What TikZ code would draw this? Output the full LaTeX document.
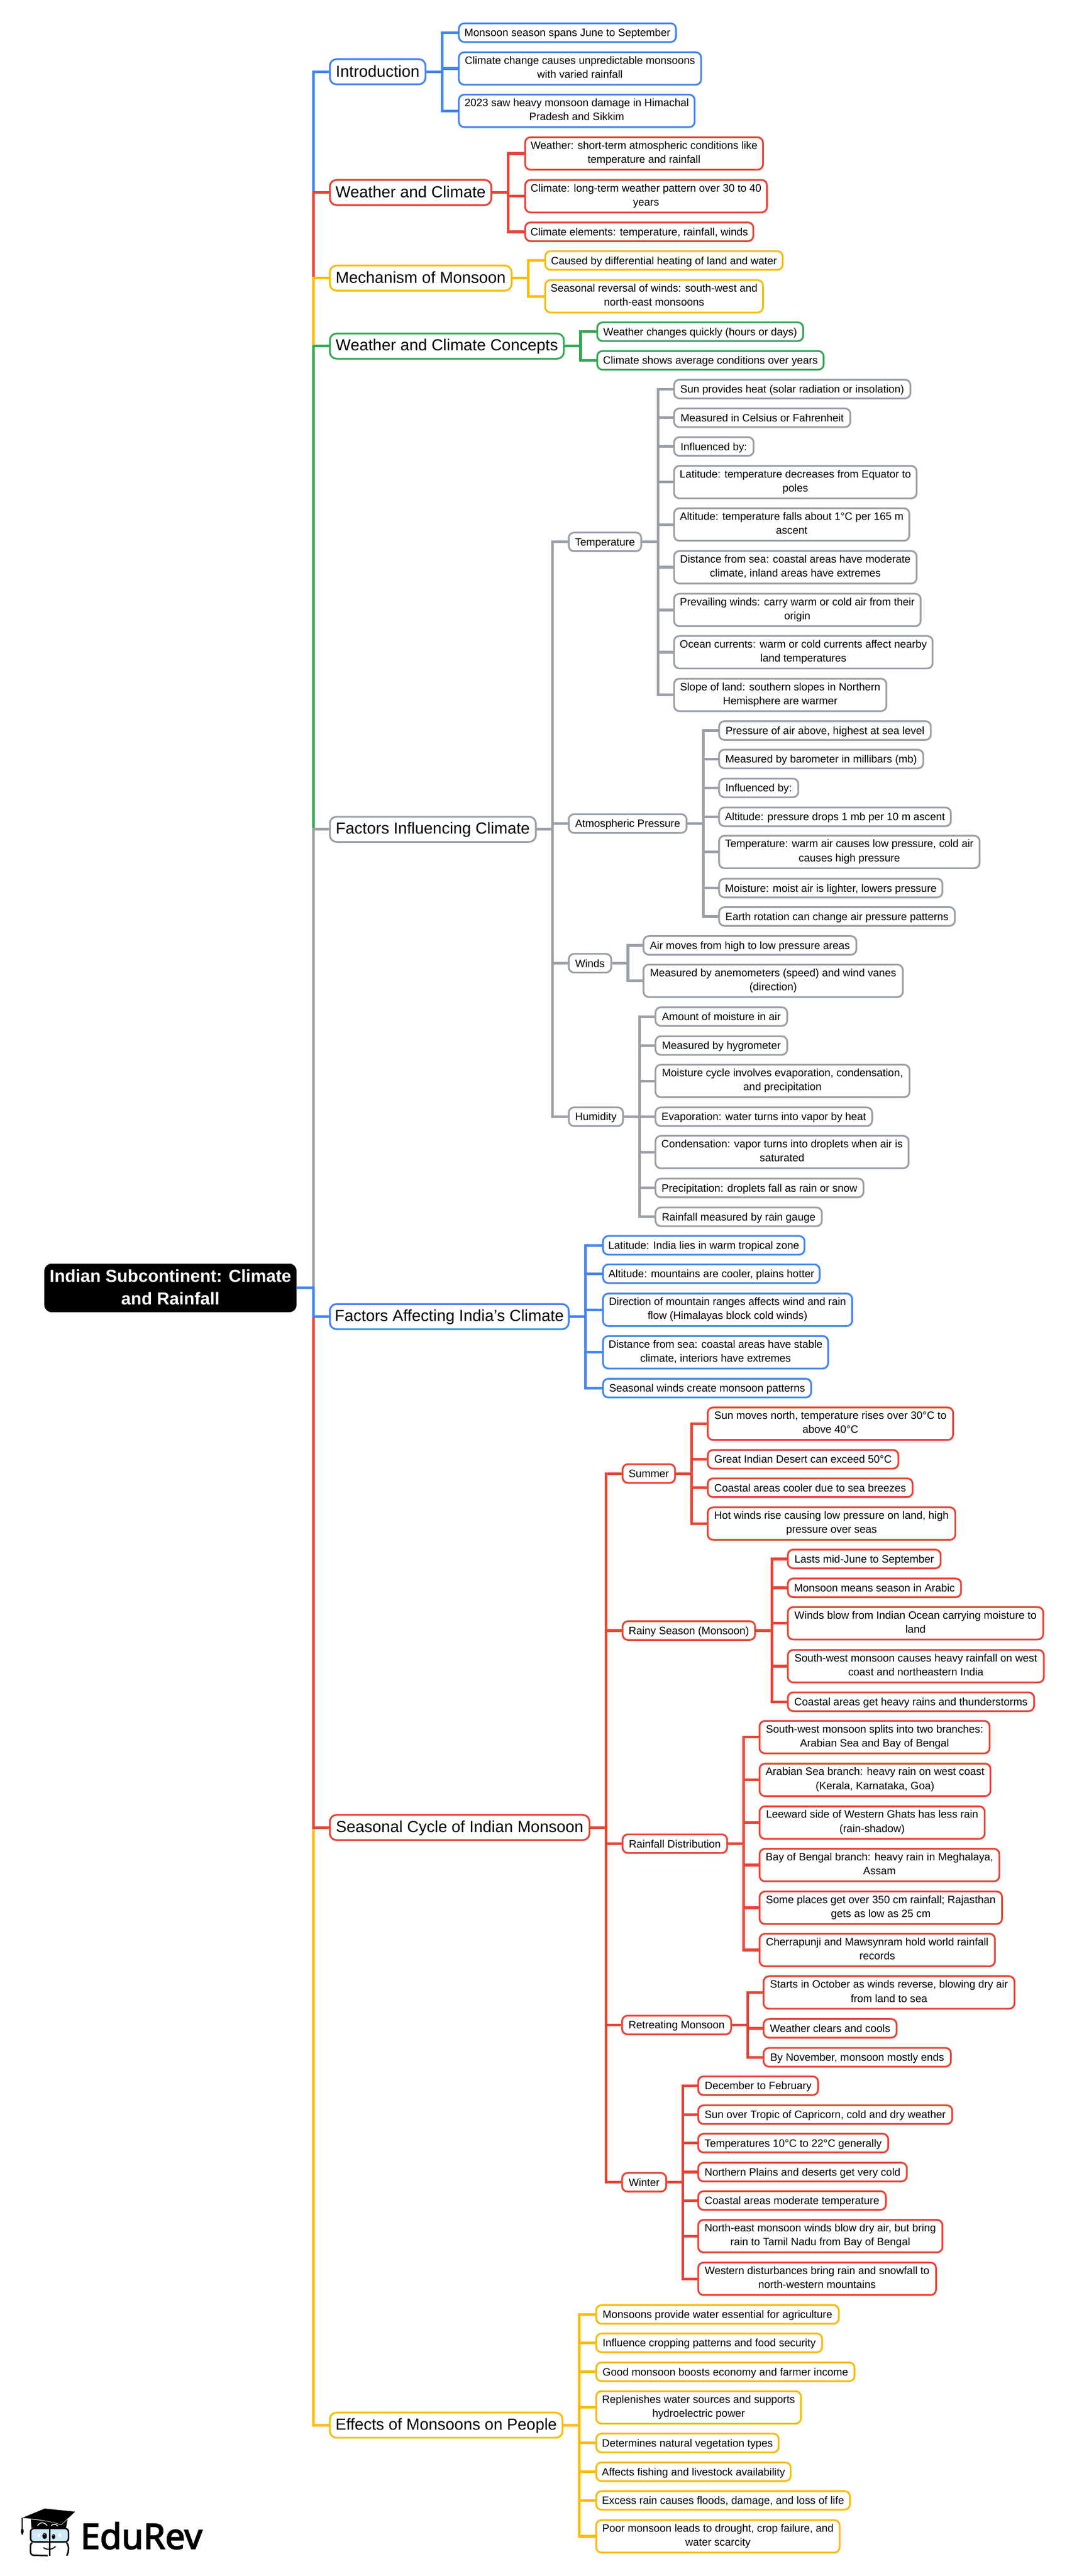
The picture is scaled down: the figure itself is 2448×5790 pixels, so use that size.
\documentclass[tikz,border=0pt]{standalone}
\usepackage{fontspec}
\setmainfont{Liberation Sans}
\newfontfamily\logofont[FakeBold=3]{Noto Sans}
\definecolor{cBlue}{HTML}{4285F4}
\definecolor{cRed}{HTML}{EA4335}
\definecolor{cYellow}{HTML}{FBBC04}
\definecolor{cGreen}{HTML}{34A853}
\definecolor{cGray}{HTML}{9AA0A6}
\definecolor{cLens}{HTML}{CFE8F7}
\tikzset{
  box/.style={rectangle,line width=2pt,fill=white,text=black,align=center,
    inner sep=0pt,outer sep=0pt,anchor=west},
  lfs/.style={rounded corners=6pt,font=\fontsize{12}{15.8}\selectfont,
    execute at begin node=\rule{0pt}{11.65pt},execute at end node=\rule[-3.05pt]{0pt}{3.05pt}},
  hone/.style={lfs,minimum height=21pt},
  htwo/.style={lfs,minimum height=36.5pt},
  hmain/.style={rounded corners=7.5pt,minimum height=28.3pt,font=\fontsize{18}{23}\selectfont,
    execute at begin node=\rule{0pt}{14pt},execute at end node=\rule[-2.6pt]{0pt}{2.6pt}},
  rootbox/.style={rectangle,rounded corners=8pt,fill=black,text=white,align=center,inner sep=0pt,outer sep=0pt,
    minimum width=283.4pt,minimum height=54.5pt,font=\fontsize{19.5}{25.5}\selectfont\bfseries,
    execute at begin node=\rule{0pt}{14pt},execute at end node=\rule[-1.6pt]{0pt}{1.6pt}},
  link/.style={line width=3pt,line join=miter}
}
\newcommand\bx[6]{\node[box,#5,minimum width={(#3-#2)*0.5pt}] (#1) at ({#2-0.5},#4) {#6};}
\newcommand\lnkall[3]{\foreach \kid in {#3}{\draw[link,draw=#2] (#1.east) -- ++(37.5,0) |- (\kid.west);}}
\begin{document}
\begin{tikzpicture}[x=0.5pt,y=-0.5pt]
\useasboundingbox (0,0) rectangle (2448,5790);
\fill[white] (0,0) rectangle (2448,5790);
\node[rootbox] (root) at (383.2,2894.8) {Indian Subcontinent: Climate\\and Rainfall};
% Introduction
\bx{intro}{742}{957}{161.3}{draw=cBlue,hmain}{Introduction}
\bx{ia}{1032}{1520}{73.5}{draw=cBlue,hone}{Monsoon season spans June to September}
\bx{ib}{1032}{1576.5}{154}{draw=cBlue,htwo}{Climate change causes unpredictable monsoons\\with varied rainfall}
\bx{ic}{1032}{1562}{249.3}{draw=cBlue,htwo}{2023 saw heavy monsoon damage in Himachal\\Pradesh and Sikkim}
% Weather and Climate
\bx{wc}{742}{1105}{432.7}{draw=cRed,hmain}{Weather and Climate}
\bx{wa}{1181}{1715.5}{345}{draw=cRed,htwo}{Weather: short-term atmospheric conditions like\\temperature and rainfall}
\bx{wb}{1181}{1724.5}{441}{draw=cRed,htwo}{Climate: long-term weather pattern over 30 to 40\\years}
\bx{wd}{1181}{1694}{521}{draw=cRed,hone}{Climate elements: temperature, rainfall, winds}
% Mechanism
\bx{me}{742}{1150.5}{625}{draw=cYellow,hmain}{Mechanism of Monsoon}
\bx{ma}{1226}{1760}{585.5}{draw=cYellow,hone}{Caused by differential heating of land and water}
\bx{mb}{1226}{1715.5}{666}{draw=cYellow,htwo}{Seasonal reversal of winds: south-west and\\north-east monsoons}
% Concepts
\bx{co}{742}{1268}{778}{draw=cGreen,hmain}{Weather and Climate Concepts}
\bx{ca}{1343}{1806}{745.6}{draw=cGreen,hone}{Weather changes quickly (hours or days)}
\bx{cb}{1343}{1852}{810}{draw=cGreen,hone}{Climate shows average conditions over years}
% Factors Influencing
\bx{fi}{742}{1205}{1864}{draw=cGray,hmain}{Factors Influencing Climate}
\bx{te}{1279}{1442}{1218}{draw=cGray,hone}{Temperature}
\bx{ta}{1515.7}{2047}{874.5}{draw=cGray,hone}{Sun provides heat (solar radiation or insolation)}
\bx{tb}{1515.7}{1912}{939}{draw=cGray,hone}{Measured in Celsius or Fahrenheit}
\bx{tc}{1515.7}{1694.6}{1003.6}{draw=cGray,hone}{Influenced by:}
\bx{td}{1515.7}{2061}{1083.7}{draw=cGray,htwo}{Latitude: temperature decreases from Equator to\\poles}
\bx{tf}{1515.7}{2044.6}{1179}{draw=cGray,htwo}{Altitude: temperature falls about 1°C per 165 m\\ascent}
\bx{tg}{1515.7}{2061}{1275}{draw=cGray,htwo}{Distance from sea: coastal areas have moderate\\climate, inland areas have extremes}
\bx{th}{1515.7}{2070}{1371}{draw=cGray,htwo}{Prevailing winds: carry warm or cold air from their\\origin}
\bx{ti}{1515.7}{2097}{1466}{draw=cGray,htwo}{Ocean currents: warm or cold currents affect nearby\\land temperatures}
\bx{tj}{1515.7}{1993}{1562}{draw=cGray,htwo}{Slope of land: southern slopes in Northern\\Hemisphere are warmer}
\bx{ap}{1279}{1544}{1851}{draw=cGray,hone}{Atmospheric Pressure}
\bx{pa}{1617}{2093}{1642}{draw=cGray,hone}{Pressure of air above, highest at sea level}
\bx{pb}{1617}{2076}{1706}{draw=cGray,hone}{Measured by barometer in millibars (mb)}
\bx{pc}{1617}{1795}{1771}{draw=cGray,hone}{Influenced by:}
\bx{pd}{1617}{2138}{1836}{draw=cGray,hone}{Altitude: pressure drops 1 mb per 10 m ascent}
\bx{pe}{1617}{2202.5}{1915}{draw=cGray,htwo}{Temperature: warm air causes low pressure, cold air\\causes high pressure}
\bx{pf}{1617}{2119}{1996}{draw=cGray,hone}{Moisture: moist air is lighter, lowers pressure}
\bx{pg}{1617}{2147}{2060}{draw=cGray,hone}{Earth rotation can change air pressure patterns}
\bx{wi}{1279}{1374.5}{2165}{draw=cGray,hone}{Winds}
\bx{na}{1447}{1925.5}{2125}{draw=cGray,hone}{Air moves from high to low pressure areas}
\bx{nb}{1447}{2030}{2204.6}{draw=cGray,htwo}{Measured by anemometers (speed) and wind vanes\\(direction)}
\bx{hu}{1279}{1401}{2510}{draw=cGray,hone}{Humidity}
\bx{ha}{1474}{1770}{2285}{draw=cGray,hone}{Amount of moisture in air}
\bx{hb}{1474}{1770}{2350}{draw=cGray,hone}{Measured by hygrometer}
\bx{hc}{1474}{2045}{2429.6}{draw=cGray,htwo}{Moisture cycle involves evaporation, condensation,\\and precipitation}
\bx{hd}{1474}{1961}{2510}{draw=cGray,hone}{Evaporation: water turns into vapor by heat}
\bx{he}{1474}{2043}{2589.5}{draw=cGray,htwo}{Condensation: vapor turns into droplets when air is\\saturated}
\bx{hf}{1474}{1941.6}{2670}{draw=cGray,hone}{Precipitation: droplets fall as rain or snow}
\bx{hg}{1474}{1848}{2735}{draw=cGray,hone}{Rainfall measured by rain gauge}
% Factors Affecting
\bx{fa}{742}{1279}{2959.3}{draw=cBlue,hmain}{Factors Affecting India's Climate}
\bx{aa}{1356}{1809}{2799}{draw=cBlue,hone}{Latitude: India lies in warm tropical zone}
\bx{ab}{1356}{1843}{2863}{draw=cBlue,hone}{Altitude: mountains are cooler, plains hotter}
\bx{ac}{1356}{1916}{2944}{draw=cBlue,htwo}{Direction of mountain ranges affects wind and rain\\flow (Himalayas block cold winds)}
\bx{ad}{1356}{1862}{3039.5}{draw=cBlue,htwo}{Distance from sea: coastal areas have stable\\climate, interiors have extremes}
\bx{ae}{1356}{1824}{3120}{draw=cBlue,hone}{Seasonal winds create monsoon patterns}
% Seasonal Cycle
\bx{sc}{742}{1325.6}{4107.6}{draw=cRed,hmain}{Seasonal Cycle of Indian Monsoon}
\bx{su}{1400}{1518}{3312}{draw=cRed,hone}{Summer}
\bx{sa}{1591.4}{2143}{3200}{draw=cRed,htwo}{Sun moves north, temperature rises over 30°C to\\above 40°C}
\bx{sb}{1591.4}{2020}{3280}{draw=cRed,hone}{Great Indian Desert can exceed 50°C}
\bx{sd}{1591.4}{2052}{3344}{draw=cRed,hone}{Coastal areas cooler due to sea breezes}
\bx{se}{1591.4}{2148}{3424.5}{draw=cRed,htwo}{Hot winds rise causing low pressure on land, high\\pressure over seas}
\bx{ry}{1400}{1698}{3665}{draw=cRed,hone}{Rainy Season (Monsoon)}
\bx{ra}{1771.5}{2115}{3504}{draw=cRed,hone}{Lasts mid-June to September}
\bx{rb}{1771.5}{2161}{3569}{draw=cRed,hone}{Monsoon means season in Arabic}
\bx{rc}{1771.5}{2345.5}{3648.6}{draw=cRed,htwo}{Winds blow from Indian Ocean carrying moisture to\\land}
\bx{rd}{1771.5}{2347}{3745}{draw=cRed,htwo}{South-west monsoon causes heavy rainfall on west\\coast and northeastern India}
\bx{re}{1771.5}{2325}{3825}{draw=cRed,hone}{Coastal areas get heavy rains and thunderstorms}
\bx{rd0}{1400}{1635}{4144}{draw=cRed,hone}{Rainfall Distribution}
\bx{da}{1708}{2225}{3904.5}{draw=cRed,htwo}{South-west monsoon splits into two branches:\\Arabian Sea and Bay of Bengal}
\bx{db}{1708}{2227}{4000.5}{draw=cRed,htwo}{Arabian Sea branch: heavy rain on west coast\\(Kerala, Karnataka, Goa)}
\bx{dc}{1708}{2214}{4096.5}{draw=cRed,htwo}{Leeward side of Western Ghats has less rain\\(rain-shadow)}
\bx{dd}{1708}{2247}{4192}{draw=cRed,htwo}{Bay of Bengal branch: heavy rain in Meghalaya,\\Assam}
\bx{de}{1708}{2253}{4288}{draw=cRed,htwo}{Some places get over 350 cm rainfall; Rajasthan\\gets as low as 25 cm}
\bx{df}{1708}{2237}{4383}{draw=cRed,htwo}{Cherrapunji and Mawsynram hold world rainfall\\records}
\bx{rt}{1399}{1644}{4551.5}{draw=cRed,hone}{Retreating Monsoon}
\bx{ea}{1717}{2281}{4478.5}{draw=cRed,htwo}{Starts in October as winds reverse, blowing dry air\\from land to sea}
\bx{eb}{1717}{2016}{4559}{draw=cRed,hone}{Weather clears and cools}
\bx{ec}{1717}{2138}{4624}{draw=cRed,hone}{By November, monsoon mostly ends}
\bx{wn}{1399}{1498}{4905}{draw=cRed,hone}{Winter}
\bx{xa}{1570}{1839.5}{4688}{draw=cRed,hone}{December to February}
\bx{xb}{1570}{2141}{4753}{draw=cRed,hone}{Sun over Tropic of Capricorn, cold and dry weather}
\bx{xc}{1570}{1997}{4817}{draw=cRed,hone}{Temperatures 10°C to 22°C generally}
\bx{xd}{1570}{2039}{4882}{draw=cRed,hone}{Northern Plains and deserts get very cold}
\bx{xe}{1570}{1992}{4946}{draw=cRed,hone}{Coastal areas moderate temperature}
\bx{xf}{1570}{2119}{5026}{draw=cRed,htwo}{North-east monsoon winds blow dry air, but bring\\rain to Tamil Nadu from Bay of Bengal}
\bx{xg}{1570}{2104.6}{5122}{draw=cRed,htwo}{Western disturbances bring rain and snowfall to\\north-western mountains}
% Effects
\bx{ef}{742}{1265}{5451}{draw=cYellow,hmain}{Effects of Monsoons on People}
\bx{ya}{1340.7}{1886}{5202}{draw=cYellow,hone}{Monsoons provide water essential for agriculture}
\bx{yb}{1340.7}{1848.6}{5266}{draw=cYellow,hone}{Influence cropping patterns and food security}
\bx{yc}{1340.7}{1921.5}{5331}{draw=cYellow,hone}{Good monsoon boosts economy and farmer income}
\bx{yd}{1340.7}{1801}{5411}{draw=cYellow,htwo}{Replenishes water sources and supports\\hydroelectric power}
\bx{ye}{1340.7}{1751}{5491}{draw=cYellow,hone}{Determines natural vegetation types}
\bx{yf}{1340.7}{1778}{5555.7}{draw=cYellow,hone}{Affects fishing and livestock availability}
\bx{yg}{1340.7}{1911}{5620}{draw=cYellow,hone}{Excess rain causes floods, damage, and loss of life}
\bx{yh}{1340.7}{1888}{5700.7}{draw=cYellow,htwo}{Poor monsoon leads to drought, crop failure, and\\water scarcity}
% connectors
\lnkall{intro}{cBlue}{ia,ib,ic}
\lnkall{wc}{cRed}{wa,wb,wd}
\lnkall{me}{cYellow}{ma,mb}
\lnkall{co}{cGreen}{ca,cb}
\lnkall{fi}{cGray}{te,ap,wi,hu}
\lnkall{te}{cGray}{ta,tb,tc,td,tf,tg,th,ti,tj}
\lnkall{ap}{cGray}{pa,pb,pc,pd,pe,pf,pg}
\lnkall{wi}{cGray}{na,nb}
\lnkall{hu}{cGray}{ha,hb,hc,hd,he,hf,hg}
\lnkall{fa}{cBlue}{aa,ab,ac,ad,ae}
\lnkall{sc}{cRed}{su,ry,rd0,rt,wn}
\lnkall{su}{cRed}{sa,sb,sd,se}
\lnkall{ry}{cRed}{ra,rb,rc,rd,re}
\lnkall{rd0}{cRed}{da,db,dc,dd,de,df}
\lnkall{rt}{cRed}{ea,eb,ec}
\lnkall{wn}{cRed}{xa,xb,xc,xd,xe,xf,xg}
\lnkall{ef}{cYellow}{ya,yb,yc,yd,ye,yf,yg,yh}
% trunk
\draw[link,draw=cBlue] (root.east) -- ++(37.6,0) |- (intro.west);
\draw[link,draw=cRed] (root.east) -- ++(37.6,0) |- (wc.west);
\draw[link,draw=cYellow] (root.east) -- ++(37.6,0) |- (me.west);
\draw[link,draw=cGreen] (root.east) -- ++(37.6,0) |- (co.west);
\draw[link,draw=cGray] (root.east) -- ++(37.6,0) |- (fi.west);
\draw[link,draw=cYellow] (root.east) -- ++(37.6,0) |- (ef.west);
\draw[link,draw=cRed] (root.east) -- ++(37.6,0) |- (sc.west);
\draw[link,draw=cBlue] (root.east) -- ++(37.6,0) |- (fa.west);
% logo
\begin{scope}[shift={(0,5500)},x=0.16667pt,y=-0.16667pt]
  \fill[black] (208,488) -- (212,545) -- (445,545) -- (456,488) -- (412,527) .. controls (350,505) and (300,497) .. (208,488) -- cycle;
  \fill[black] (150,478) -- (302,415) -- (507,436) -- (412,523) .. controls (350,503) and (280,488) .. (150,478) -- cycle;
  \draw[black,line width=1.1pt] (150,478) -- (150,550);
  \fill[black] (150,546) .. controls (136,560) and (138,575) .. (150,594) .. controls (162,575) and (164,560) .. (150,546) -- cycle;
  \draw[white,line width=0.9pt] (253,530) .. controls (270,505) and (300,505) .. (318,530);
  \draw[white,line width=0.9pt] (345,530) .. controls (358,518) and (375,518) .. (390,532);
  \draw[black,fill=cLens,line width=1.7pt,rounded corners=4pt] (206,549) rectangle (462,640);
  \draw[white,line width=1.2pt] (329,553) -- (329,636);
  \draw[black,line width=1.7pt] (336,545) -- (336,735);
  \fill[black] (301,600) ellipse [x radius=15,y radius=21];
  \fill[black] (361,604) ellipse [x radius=12,y radius=17];
  \fill[white] (298,590) circle [radius=4];
  \fill[white] (357,596) circle [radius=3];
  \fill[white,opacity=0.75] (252,586) rectangle (272,606);
  \fill[white,opacity=0.75] (394,584) rectangle (414,606);
  \draw[black,line width=1.7pt] (322,732) -- (225,730) .. controls (205,728) and (205,710) .. (205,690) .. controls (205,665) and (205,650) .. (218,645);
  \draw[black,line width=1.7pt] (448,645) .. controls (465,660) and (468,700) .. (450,733);
  \draw[black,line width=1.2pt] (293,678) .. controls (315,695) and (350,695) .. (375,670);
\end{scope}
\node[anchor=base west,inner sep=0pt,outer sep=0pt,font=\logofont\fontsize{39.5}{48}\selectfont] (logo) at (181,5729) {EduRev};
\end{tikzpicture}
\end{document}
